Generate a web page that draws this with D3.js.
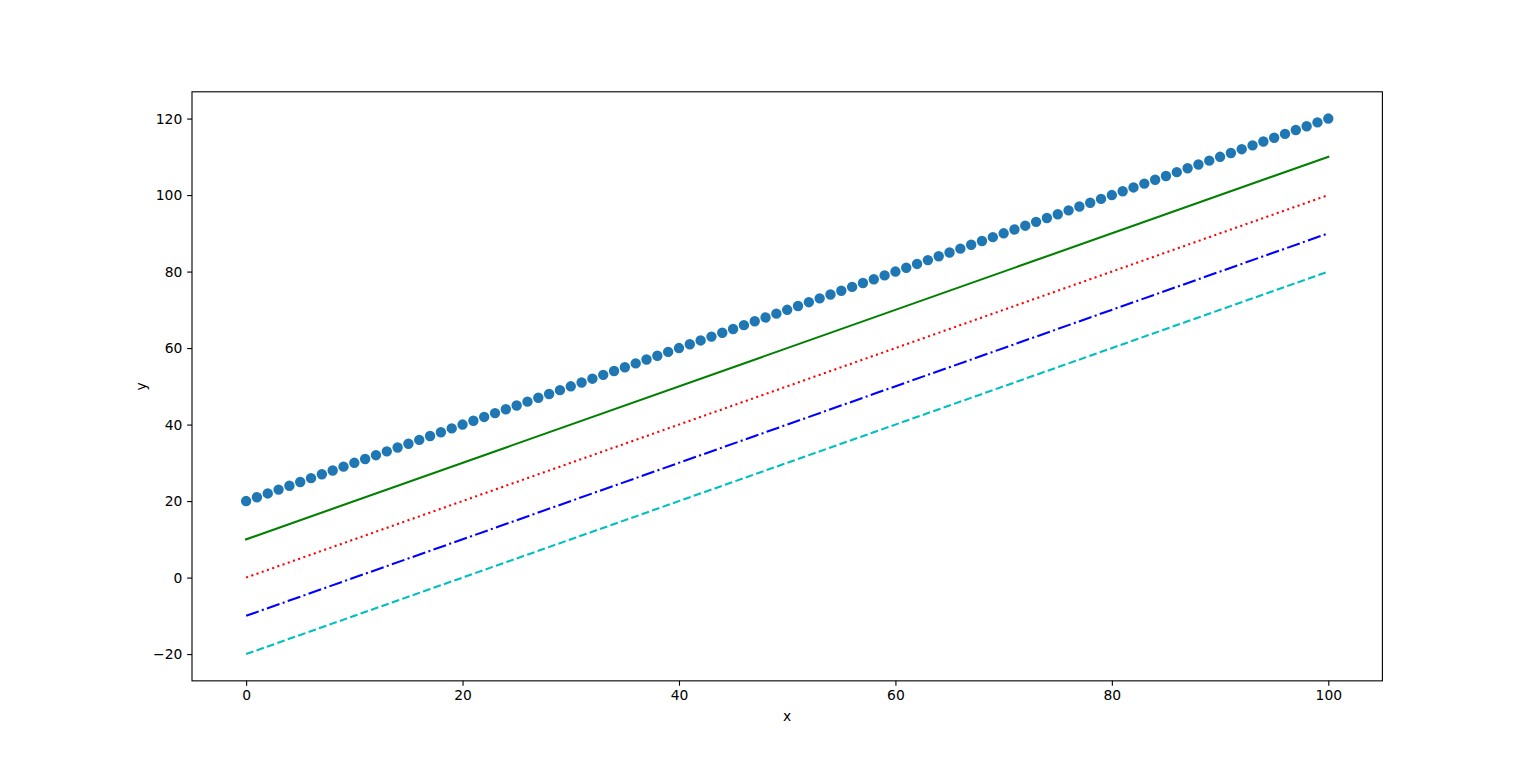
<!DOCTYPE html>
<html>
<head>
<meta charset="utf-8">
<script src="https://cdn.jsdelivr.net/npm/d3@7"></script>
<style>
  html, body { margin: 0; padding: 0; background: #fff; }
  svg { display: block; }
  text { font-family: "DejaVu Sans", sans-serif; }
</style>
</head>
<body>
<svg id="chart" width="1536" height="765"></svg>
<script>
// ---- data ----
const scatterX = [0,1,2,3,4,5,6,7,8,9,10,11,12,13,14,15,16,17,18,19,20,21,22,23,24,25,26,27,28,29,30,31,32,33,34,35,36,37,38,39,40,41,42,43,44,45,46,47,48,49,50,51,52,53,54,55,56,57,58,59,60,61,62,63,64,65,66,67,68,69,70,71,72,73,74,75,76,77,78,79,80,81,82,83,84,85,86,87,88,89,90,91,92,93,94,95,96,97,98,99,100];
const scatterY = [20,21,22,23,24,25,26,27,28,29,30,31,32,33,34,35,36,37,38,39,40,41,42,43,44,45,46,47,48,49,50,51,52,53,54,55,56,57,58,59,60,61,62,63,64,65,66,67,68,69,70,71,72,73,74,75,76,77,78,79,80,81,82,83,84,85,86,87,88,89,90,91,92,93,94,95,96,97,98,99,100,101,102,103,104,105,106,107,108,109,110,111,112,113,114,115,116,117,118,119,120];
const lineX = [0, 100];
const greenY = [10, 110];
const redY = [0, 100];
const blueY = [-10, 90];
const cyanY = [-20, 80];
const xTicks = [0, 20, 40, 60, 80, 100];
const yTicks = [-20, 0, 20, 40, 60, 80, 100, 120];
const xLabel = "x";
const yLabel = "y";

// ---- layout ----
const mLeft = 192, mRight = 1382.4, mTop = 91.8, mBottom = 680.85;
const px = 100 / 72;
const svg = d3.select("#chart");

const x = d3.scaleLinear().domain([-5, 105]).range([mLeft, mRight]);
const y = d3.scaleLinear().domain([-27, 127]).range([mBottom, mTop]);

const plot = svg.append("g");

const lineGen = d3.line().x(d => x(d[0])).y(d => y(d[1]));
const lw = 1.5 * px;
const series = [
  { ys: greenY, color: "green", dash: null },
  { ys: redY, color: "red", dash: [1 * lw, 1.65 * lw] },
  { ys: blueY, color: "blue", dash: [6.4 * lw, 1.6 * lw, 1 * lw, 1.6 * lw] },
  { ys: cyanY, color: "#00bfbf", dash: [3.7 * lw, 1.6 * lw] }
];

plot.selectAll("circle.pt")
  .data(scatterX.map((v, i) => [v, scatterY[i]]))
  .enter().append("circle")
  .attr("class", "pt")
  .attr("cx", d => x(d[0]))
  .attr("cy", d => y(d[1]))
  .attr("r", 3 * px)
  .attr("fill", "#1f77b4")
  .attr("stroke", "#1f77b4")
  .attr("stroke-width", lw);

series.forEach(s => {
  plot.append("path")
    .datum(lineX.map((v, i) => [v, s.ys[i]]))
    .attr("d", lineGen)
    .attr("fill", "none")
    .attr("stroke", s.color)
    .attr("stroke-width", lw)
    .attr("stroke-linecap", s.dash ? "butt" : "square")
    .attr("stroke-dasharray", s.dash ? s.dash.join(",") : null);
});

// axes
const tickLen = 3.5 * px, pad = 3.5 * px, fs = 10 * px;
const fmt = d => (d < 0 ? "\u2212" + Math.abs(d) : String(d));

const xAxis = d3.axisBottom(x).tickValues(xTicks).tickSize(tickLen).tickPadding(pad).tickFormat(fmt);
const yAxis = d3.axisLeft(y).tickValues(yTicks).tickSize(tickLen).tickPadding(pad).tickFormat(fmt);

const gx = svg.append("g").attr("transform", `translate(0,${mBottom})`).call(xAxis);
const gy = svg.append("g").attr("transform", `translate(${mLeft},0)`).call(yAxis);
[gx, gy].forEach(g => {
  g.select(".domain").remove();
  g.selectAll(".tick line").attr("stroke", "#000").attr("stroke-width", 0.8 * px);
  g.selectAll(".tick text").attr("fill", "#000").style("font-size", fs + "px").style("font-family", "DejaVu Sans");
});

// spines
svg.append("rect")
  .attr("x", mLeft).attr("y", mTop)
  .attr("width", mRight - mLeft).attr("height", mBottom - mTop)
  .attr("fill", "none").attr("stroke", "#000").attr("stroke-width", 0.8 * px);

// axis labels
svg.append("text")
  .attr("x", (mLeft + mRight) / 2).attr("y", 721)
  .attr("text-anchor", "middle")
  .style("font-size", fs + "px")
  .text(xLabel);

svg.append("text")
  .attr("transform", `translate(146,${(mTop + mBottom) / 2}) rotate(-90)`)
  .attr("text-anchor", "middle")
  .style("font-size", fs + "px")
  .text(yLabel);
</script>
</body>
</html>
